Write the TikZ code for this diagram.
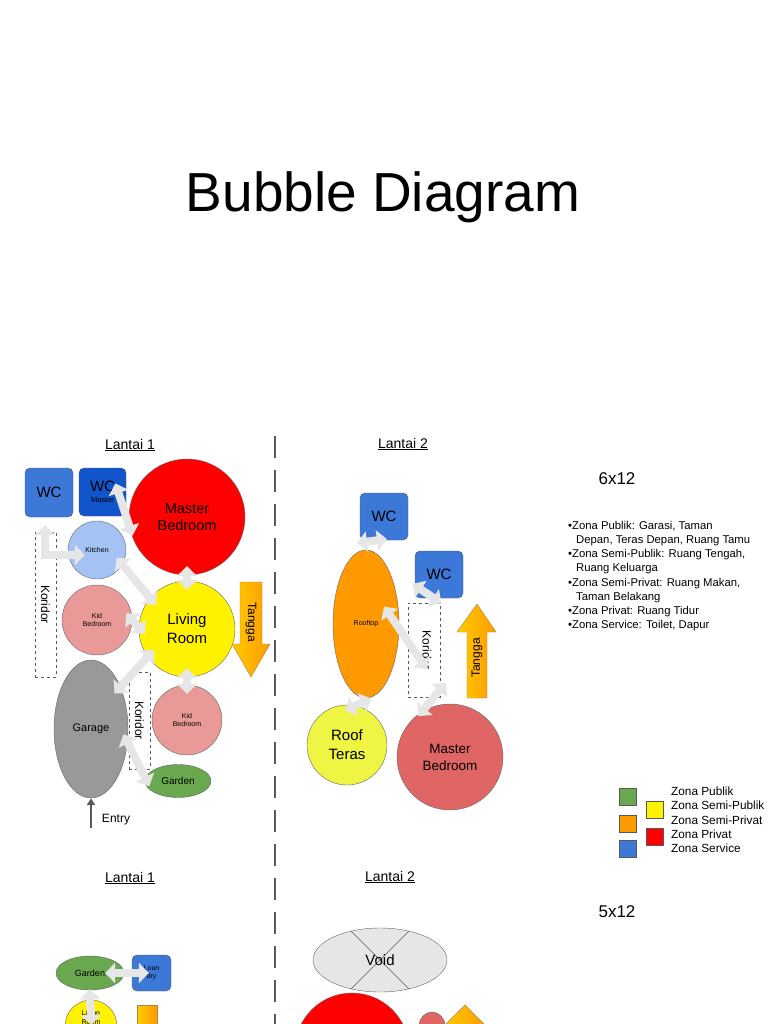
\documentclass[tikz,border=0pt]{standalone}
\usepackage{fontspec}
\setmainfont{Liberation Sans}
\usetikzlibrary{arrows.meta,shapes.geometric}
\definecolor{wcblue}{HTML}{3C78D8}
\definecolor{wcdark}{HTML}{1155CC}
\definecolor{kitch}{HTML}{A4C2F4}
\definecolor{kid}{HTML}{EA9999}
\definecolor{gard}{HTML}{6AA84F}
\definecolor{orng}{HTML}{FF9900}
\definecolor{teras}{HTML}{EEF542}
\definecolor{mbed}{HTML}{E06666}
\definecolor{lgray}{HTML}{E6E6E6}
\tikzset{
 bub/.style={circle,draw=gray!80!black,thin,inner sep=0pt,align=center},
 ell/.style={ellipse,draw=gray!80!black,thin,inner sep=0pt,align=center},
 wcbox/.style={rounded corners=5pt,draw=gray!70!black,thin,align=center,inner sep=0pt},
 kor/.style={draw=gray!70!black,dashed,thin,inner sep=0pt},
 dbl/.style={draw=lgray,line width=8pt,shorten <=-9pt,shorten >=-9pt,{Triangle[length=10pt,width=20pt]}-{Triangle[length=10pt,width=20pt]}},
 lbl/.style={font=\fontsize{14}{16}\selectfont},
 big/.style={font=\fontsize{14.5}{17}\selectfont},
 tiny/.style={font=\fontsize{7}{8.5}\selectfont},
}
\begin{document}
\begin{tikzpicture}[x=1pt,y=-1pt]
\useasboundingbox (0,0) rectangle (768,1024);
\clip (0,0) rectangle (768,1024);
\node[font=\fontsize{55}{60}\selectfont] (title) at (383,197) {Bubble Diagram};
% divider
\draw[gray!70!black,line width=2.5pt,dash pattern=on 22pt off 12pt] (275,436) -- (275,1024);
\node[lbl] (l1) at (130,445) {\underline{Lantai 1}};
\node[lbl] (l2) at (403,444) {\underline{Lantai 2}};
% ---- Lantai 1 ----
\node[kor,minimum width=21pt,minimum height=145pt] (kor1) at (45.5,604.5) {};
\node[rotate=-90,font=\fontsize{12}{14}\selectfont] at (kor1) {Koridor};
\node[kor,minimum width=21pt,minimum height=97pt] (kor2) at (139.5,720.5) {};
\node[rotate=-90,font=\fontsize{12}{14}\selectfont] at (kor2) {Koridor};
\node[wcbox,fill=wcblue,minimum width=48pt,minimum height=49pt,font=\fontsize{15}{16}\selectfont] (wc1) at (49,492.5) {WC};
\node[wcbox,fill=wcdark,minimum width=47pt,minimum height=48pt,font=\fontsize{15}{14}\selectfont] (wcm) at (102.5,492) {WC\\[-3pt]{\fontsize{7.5}{8}\selectfont Master}};
\node[bub,fill=red,minimum size=116pt,big] (mb) at (187,517) {Master\\Bedroom};
\node[bub,fill=kitch,minimum size=58pt,tiny] (kit) at (97,550) {Kitchen};
\node[bub,fill=kid,minimum size=70pt,tiny] (kb1) at (97,620) {Kid\\Bedroom};
\node[bub,fill=yellow,minimum size=96pt,font=\fontsize{15}{19}\selectfont] (lr) at (187,629) {Living\\Room};
\node[bub,fill=kid,minimum size=70pt,tiny] (kb2) at (187,720) {Kid\\Bedroom};
\node[ell,fill=gray!80,minimum width=74pt,minimum height=138pt,font=\fontsize{11}{12}\selectfont] (gar) at (91,729) {Garage};
\node[ell,fill=gard,minimum width=66pt,minimum height=33pt,font=\fontsize{10}{11}\selectfont] (gd) at (178,781) {Garden};
\shade[left color=orange!40!yellow,right color=orng,draw=gray!60!orange] (240,582) -- (262,582) -- (262,644) -- (270,644) -- (251,677) -- (232,644) -- (240,644) -- cycle;
\node[rotate=-90,font=\fontsize{12}{14}\selectfont] (tg1) at (251,622) {Tangga};
\coordinate (gent) at (91,828);
\draw[gray!70!black,line width=2.5pt,-{Triangle[length=7pt,width=8pt]}] (gent) -- (gar.south);
\node[font=\fontsize{12}{14}\selectfont] (entry) at (116,820) {Entry};
% L1 arrows
\draw[dbl,shorten <=0pt] ([xshift=-4pt,yshift=-8pt]wc1.south) |- ([xshift=8pt,yshift=-5pt]kit.west);
\draw[dbl] ([xshift=-8pt]wcm.east) -- (mb.180+10);
\draw[dbl] (kit.-30) -- (lr.140);
\draw[dbl] (kb1.east) -- (lr.178);
\draw[dbl] (mb.south) -- (lr.north);
\draw[dbl] (lr.215) -- (gar.55);
\draw[dbl] (lr.south) -- (kb2.north);
\draw[dbl] (gar.-20) -- (gd.175);
% ---- Lantai 2 ----
\node[kor,minimum width=32pt,minimum height=94pt] (kor3) at (424,650) {};
\node[rotate=-90,font=\fontsize{12}{14}\selectfont] at (427,650) {Koridor};
\node[wcbox,fill=wcblue,minimum width=48pt,minimum height=47pt,font=\fontsize{15}{16}\selectfont] (wc2) at (384,516.5) {WC};
\node[wcbox,fill=wcblue,minimum width=48pt,minimum height=47pt,font=\fontsize{15}{16}\selectfont] (wc3) at (439,574.5) {WC};
\node[ell,fill=orng,minimum width=66pt,minimum height=148pt,tiny] (rt) at (366,624) {Rooftop};
\node[bub,fill=teras,minimum size=80pt,font=\fontsize{15}{19}\selectfont] (rtr) at (347,745) {Roof\\Teras};
\node[bub,fill=mbed,minimum size=106pt,font=\fontsize{13.5}{17}\selectfont] (mb2) at (450,757) {Master\\Bedroom};
\shade[left color=orange!40!yellow,right color=orng,draw=gray!60!orange] (467,698) -- (487,698) -- (487,632) -- (496,632) -- (477,604) -- (457,632) -- (467,632) -- cycle;
\node[rotate=90,font=\fontsize{12}{14}\selectfont] (tg2) at (477,658) {Tangga};
\draw[dbl] ([yshift=8pt]rt.north) -- ([xshift=-6pt]wc2.south);
\draw[dbl] ([xshift=-5pt]wc3.south) -- ([xshift=-4pt,yshift=14pt]kor3.north);
\draw[dbl] ([xshift=-10pt,yshift=10pt]rt.east) -- ([xshift=-2pt,yshift=-12pt]kor3.center);
\draw[dbl] ([xshift=-3pt,yshift=-4pt]rt.south) -- ([xshift=6pt,yshift=-2pt]rtr.north);
\draw[dbl] ([yshift=-12pt]kor3.south) -- ([xshift=-10pt,yshift=14pt]mb2.north);
% ---- right text ----
\node[font=\fontsize{17}{19}\selectfont] (s1) at (617,479) {6x12};
\node[anchor=north west,align=left,font=\fontsize{11.3}{14.2}\selectfont,inner sep=0pt] (bl) at (568,521) {%
\textbullet Zona Publik: Garasi, Taman\\
\hspace*{8pt}Depan, Teras Depan, Ruang Tamu\\
\textbullet Zona Semi-Publik: Ruang Tengah,\\
\hspace*{8pt}Ruang Keluarga\\
\textbullet Zona Semi-Privat: Ruang Makan,\\
\hspace*{8pt}Taman Belakang\\
\textbullet Zona Privat: Ruang Tidur\\
\textbullet Zona Service: Toilet, Dapur};
% legend
\foreach \c/\x/\y/\n in {gard/619/788/lg1,orng/619/815/lg2,wcblue/619/840/lg3,yellow/646/801/lg4,red/646/828/lg5}
 \node[draw=gray!70!black,fill=\c,minimum size=17pt,inner sep=0pt,anchor=north west] (\n) at (\x,\y) {};
\node[anchor=north west,align=left,font=\fontsize{11.8}{14.2}\selectfont,inner sep=0pt] (lgt) at (671,787) {Zona Publik\\Zona Semi-Publik\\Zona Semi-Privat\\Zona Privat\\Zona Service};
% ---- second section ----
\node[lbl] (l3) at (130,878) {\underline{Lantai 1}};
\node[lbl] (l4) at (390,877) {\underline{Lantai 2}};
\node[font=\fontsize{17}{19}\selectfont] (s2) at (617,912) {5x12};
\node[ell,fill=gard,minimum width=68pt,minimum height=34pt,font=\fontsize{9}{10}\selectfont] (gd2) at (90,973) {Garden};
\node[wcbox,fill=wcblue,minimum width=39pt,minimum height=36pt,tiny] (ld) at (151.5,973) {Loun\\dry};
\node[bub,fill=yellow,minimum size=52pt,tiny] (lr2) at (91,1026) {Living\\Room\\ \\ };
\node[draw=gray!60!orange,left color=orange!40!yellow,right color=orng,minimum width=20pt,minimum height=30pt,anchor=north west,inner sep=0pt] (tg3) at (137,1005) {};
\draw[dbl] ([xshift=-10pt]gd2.east) -- ([xshift=8pt]ld.west);
\draw[dbl] ([yshift=-8pt]gd2.south) -- ([yshift=-16pt]lr2.north);
\node[ell,fill=lgray,minimum width=134pt,minimum height=64pt] (vd) at (380,960) {};
\draw[gray!70!black] (vd.135) -- (vd.-45) (vd.45) -- (vd.-135);
\node[font=\fontsize{15}{17}\selectfont] at (vd) {Void};
\node[bub,fill=red,minimum size=114pt] (mb3) at (352,1050) {};
\node[ell,fill=mbed,minimum width=26pt,minimum height=28pt] (kb3) at (432,1026) {};
\shade[left color=orange!40!yellow,right color=orng,draw=gray!60!orange] (440,1030) -- (465,1005) -- (490,1030) -- (480,1030) -- (480,1040) -- (450,1040) -- (450,1030) -- cycle;
\end{tikzpicture}
\end{document}
